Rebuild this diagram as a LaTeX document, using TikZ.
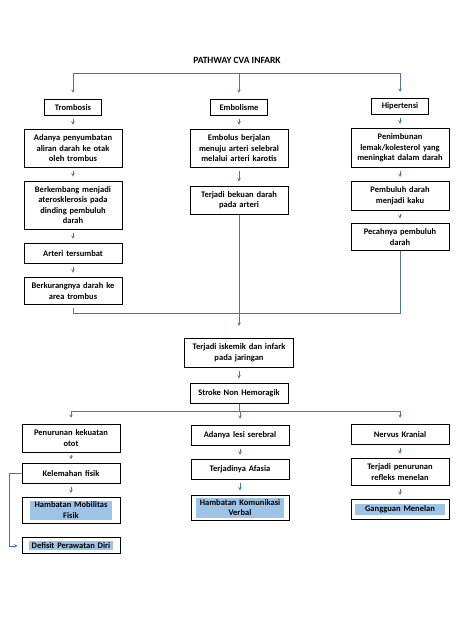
\documentclass[tikz,border=0pt]{standalone}
\usepackage{fontspec}
\setmainfont{Carlito}
\usetikzlibrary{shapes,arrows,positioning}

\definecolor{linkblue}{RGB}{79,115,175}
\definecolor{markblue}{RGB}{157,195,230}
\newcommand{\bluemark}[2]{\setlength{\fboxsep}{1.5pt}\colorbox{markblue}{\parbox{#1}{\centering #2}}}

\begin{document}
\begin{tikzpicture}[x=1pt, y=1pt, node distance=13pt, font=\fontsize{8.5}{10.5}\selectfont\bfseries]
    % Styles
    \tikzstyle{head} = [rectangle, draw, minimum width=57pt, minimum height=16pt, inner sep=3pt, line width=0.8pt]
    \tikzstyle{step_box} = [rectangle, draw, text width=90pt, align=center, inner xsep=4pt, inner ysep=5.5pt, minimum height=20pt, line width=0.8pt]
    \tikzstyle{result} = [step_box, inner ysep=3pt]
    \tikzstyle{arrow} = [->, >=stealth, draw=linkblue, line width=0.6pt]
    \tikzstyle{link} = [draw=linkblue, line width=0.6pt]

    \useasboundingbox (0,0) rectangle (474,632);

    % Title and causes
    \node [font=\fontsize{9.5}{11}\selectfont\bfseries] (title) at (237,572) {PATHWAY CVA INFARK};
    \node [head, anchor=north] (tromb) at (73,533) {Trombosis};
    \node [head, anchor=north] (emb) at (239,533) {Embolisme};
    \node [head, anchor=north] (hiper) at (400,534) {Hipertensi};

    % Trombosis branch
    \node [step_box, below=of tromb] (t1) {Adanya penyumbatan\\aliran darah ke otak\\oleh trombus};
    \node [step_box, below=of t1] (t2) {Berkembang menjadi\\aterosklerosis pada\\dinding pembuluh\\darah};
    \node [step_box, below=of t2] (t3) {Arteri tersumbat};
    \node [step_box, below=of t3] (t4) {Berkurangnya darah ke\\area trombus};

    % Embolisme branch
    \node [step_box, below=of emb] (e1) {Embolus berjalan\\menuju arteri selebral\\melalui arteri karotis};
    \node [step_box, below=18pt of e1] (e2) {Terjadi bekuan darah\\pada arteri};

    % Hipertensi branch
    \node [step_box, below=of hiper] (h1) {Penimbunan\\lemak/kolesterol yang\\meningkat dalam darah};
    \node [step_box, below=of h1] (h2) {Pembuluh darah\\menjadi kaku};
    \node [step_box, below=12pt of h2] (h3) {Pecahnya pembuluh\\darah};

    % Middle
    \node [step_box, text width=101pt, anchor=north] (isk) at (239,294) {Terjadi iskemik dan infark\\pada jaringan};
    \node [step_box, below=15pt of isk] (snh) {Stroke Non Hemoragik};

    % Effects
    \node [step_box, anchor=north] (p1) at (71,208) {Penurunan kekuatan\\otot};
    \node [step_box, below=11pt of p1] (p2) {Kelemahan fisik};
    \node [result, below=of p2] (p3) {\bluemark{79pt}{Hambatan Mobilitas\\Fisik}};
    \node [result, inner ysep=2pt, minimum height=16pt, below=14pt of p3] (p4) {\bluemark{82pt}{Defisit Perawatan Diri}};

    \node [step_box, anchor=north] (l1) at (240,207) {Adanya lesi serebral};
    \node [step_box, below=of l1] (l2) {Terjadinya Afasia};
    \node [result, below=15pt of l2] (l3) {\bluemark{85pt}{Hambatan Komunikasi\\Verbal}};

    \node [step_box, anchor=north] (n1) at (400,208) {Nervus Kranial};
    \node [step_box, below=of n1] (n2) {Terjadi penurunan\\refleks menelan};
    \node [result, below=of n2] (n3) {\bluemark{87pt}{Gangguan Menelan}};

    % Connections
    \coordinate (split) at (239,559);
    \draw [link] (tromb.north |- split) -- (hiper.north |- split);
    \foreach \n in {tromb, emb, hiper}
        \draw [arrow, shorten >=6pt] (\n.north |- split) -- (\n);

    \foreach \a/\b in {tromb/t1, t1/t2, t2/t3, t3/t4, emb/e1, e1/e2, hiper/h1, h1/h2, h2/h3, isk/snh, p1/p2, p2/p3, l1/l2, l2/l3, n1/n2, n2/n3}
        \draw [arrow, shorten <=3pt, shorten >=4pt] (\a) -- (\b);

    % Merging
    \coordinate (merge) at (239,319);
    \draw [link, shorten <=3pt] (t4) |- (merge);
    \draw [link] (h3) |- (merge);
    \draw [arrow, shorten >=12pt] (e2) -- (isk);

    % Splitting
    \coordinate (split2) at (239,221);
    \draw [link] (snh) -- (split2);
    \draw [link] (p1.north |- split2) -- (n1.north |- split2);
    \foreach \n in {p1, l1, n1}
        \draw [arrow, shorten >=6pt] (\n.north |- split2) -- (\n);

    \draw [arrow, shorten >=4pt] (p2.west) -- ++(-12,0) |- (p4.west);

\end{tikzpicture}
\end{document}
